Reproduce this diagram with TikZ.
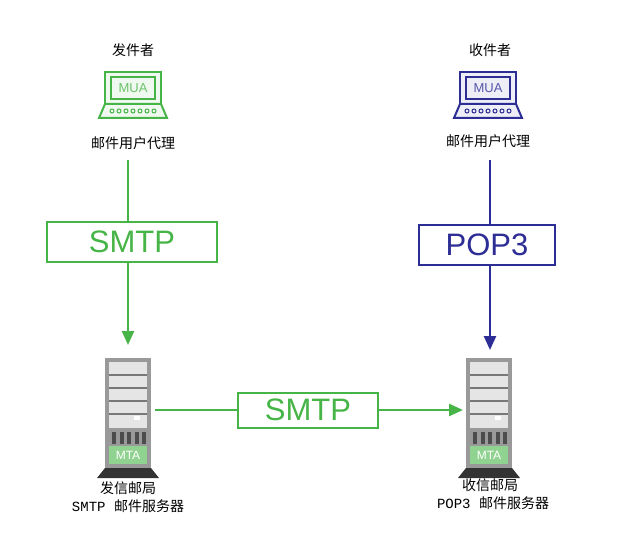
\documentclass[tikz,border=0pt]{standalone}
\usepackage{fontspec}
\setmainfont{Liberation Sans}
\newfontfamily\cjk{Noto Sans CJK SC}
\newfontfamily\mono{Liberation Mono}
\usetikzlibrary{arrows.meta}
\definecolor{gr}{RGB}{70,180,70}
\definecolor{bl}{RGB}{45,45,150}
\definecolor{srv}{RGB}{120,120,120}
\tikzset{
 lab/.style={font=\cjk\fontsize{14}{15}\selectfont, inner sep=0pt},
 proto/.style={draw=#1, line width=2pt, text=#1, font=\fontsize{31}{33}\selectfont, inner sep=3pt, minimum height=40pt, fill=white},
 conn/.style={draw=#1, line width=2.4pt, -{Triangle[length=14pt,width=12pt]}}
}
\newcommand{\laptop}[3]{% x, y(top), color
 \draw[#3, line width=2pt, fill=#3!8] (#1-28,#2) rectangle (#1+28,#2+32);
 \draw[#3, line width=1.5pt] (#1-22,#2+5) rectangle (#1+22,#2+27);
 \node[text=#3!80, font=\fontsize{13}{13}\selectfont, inner sep=0pt] at (#1,#2+16) {MUA};
 \draw[#3, line width=2pt, fill=#3!8] (#1-28,#2+32) -- (#1+28,#2+32) -- (#1+34,#2+46) -- (#1-34,#2+46) -- cycle;
 \foreach \i in {-3,...,3} \draw[#3, line width=1pt] (#1+\i*7,#2+39) circle (2pt);
}
\newcommand{\server}[2]{% x center, y top
 \fill[gray!80] (#1-23,#2) rectangle (#1+23,#2+110);
 \fill[gray!20] (#1-19,#2+4) rectangle (#1+19,#2+70);
 \foreach \k in {1,...,4} \draw[srv, line width=2pt] (#1-19,#2+4+\k*13) -- (#1+19,#2+4+\k*13);
 \fill[white] (#1+6,#2+58) rectangle (#1+12,#2+62);
 \foreach \k in {0,...,4} \fill[black!70] (#1-16+\k*7.5,#2+74) rectangle (#1-12+\k*7.5,#2+86);
 \fill[gr!60] (#1-19,#2+88) rectangle (#1+19,#2+106);
 \node[text=white, font=\fontsize{12}{12}\selectfont, inner sep=0pt] at (#1,#2+97) {MTA};
 \fill[black!80] (#1-23,#2+110) -- (#1+23,#2+110) -- (#1+31,#2+120) -- (#1-31,#2+120) -- cycle;
}
\begin{document}
\begin{tikzpicture}[x=1pt,y=-1pt]
\useasboundingbox (0,0) rectangle (632,540);
\fill[white] (0,0) rectangle (632,540);
\node[lab] (s1) at (133,50) {发件者};
\laptop{133}{72}{gr}
\node[lab] (s2) at (133,143) {邮件用户代理};
\node[lab] (r1) at (490,50) {收件者};
\laptop{488}{72}{bl}
\node[lab] (r2) at (488,141) {邮件用户代理};
\server{128}{358}
\server{489}{358}
\coordinate (ls) at (128,160); \coordinate (le) at (128,345);
\coordinate (rs) at (490,160); \coordinate (re) at (490,350);
\coordinate (hs) at (155,410); \coordinate (he) at (463,410);
\draw[conn=gr] (ls) -- (le);
\draw[conn=bl] (rs) -- (re);
\draw[conn=gr] (hs) -- (he);
\node[proto=gr, minimum width=170pt] (p1) at (132,242) {SMTP};
\node[proto=bl, minimum width=136pt] (p2) at (487,245) {POP3};
\node[proto=gr, minimum width=140pt, minimum height=35pt] (p3) at (308,410) {SMTP};
\node[lab] (m1) at (128,488) {发信邮局};
\node[font=\mono\fontsize{14}{15}\selectfont, inner sep=0pt] (m2) at (128,506) {SMTP {\cjk 邮件服务器}};
\node[lab] (n1) at (490,485) {收信邮局};
\node[font=\mono\fontsize{14}{15}\selectfont, inner sep=0pt] (n2) at (493,503) {POP3 {\cjk 邮件服务器}};
\end{tikzpicture}
\end{document}
